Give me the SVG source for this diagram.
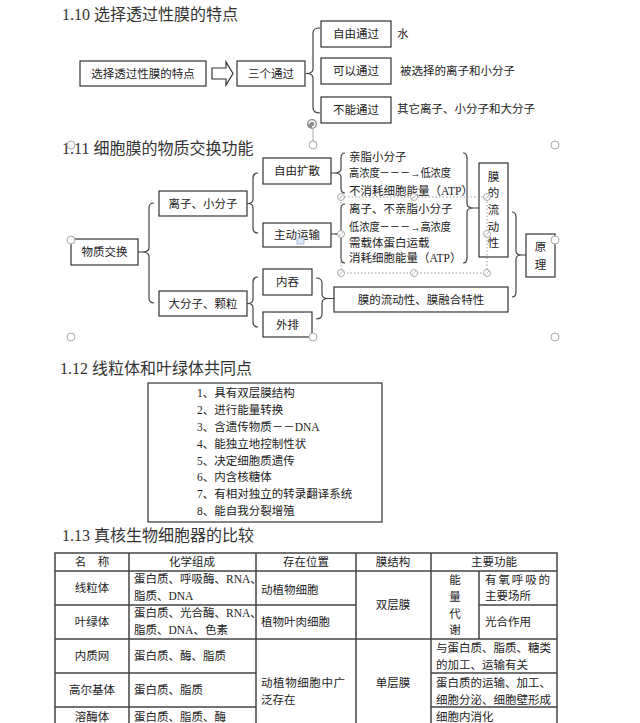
<svg xmlns="http://www.w3.org/2000/svg" width="640" height="723" viewBox="0 0 640 723">
<style>
text{font-family:"Liberation Serif","Noto Sans CJK SC",sans-serif;font-size:11.5px;fill:#222}
.t{font-size:16px;fill:#333}
.c{text-anchor:middle}
.box{fill:#fff;stroke:#333;stroke-width:1.2}
.br{fill:none;stroke:#444;stroke-width:1.2}
.tb{fill:none;stroke:#444;stroke-width:1.5}
.h{fill:#fff;stroke:#aaa;stroke-width:1}
.dot{fill:none;stroke:#999;stroke-width:1;stroke-dasharray:1.5 2}
</style>
<rect width="640" height="723" fill="#fff"/>

<!-- 1.10 -->
<g id="title110"><text class="t" x="62" y="20">1.10 选择透过性膜的特点</text></g>
<g id="n_xuanze"><rect class="box" x="80" y="61" width="126" height="25"/><text class="c" x="143" y="77.5">选择透过性膜的特点</text></g>
<g id="n_sange"><rect class="box" x="237" y="61" width="68" height="25"/><text class="c" x="271" y="77.5">三个通过</text></g>
<g id="n_ziyou"><rect class="box" x="321" y="21" width="70" height="26"/><text class="c" x="356" y="38">自由通过</text></g>
<g id="n_keyi"><rect class="box" x="321" y="58" width="70" height="26"/><text class="c" x="356" y="75">可以通过</text></g>
<g id="n_buneng"><rect class="box" x="321" y="97" width="70" height="26"/><text class="c" x="356" y="114">不能通过</text></g>
<g id="l_shui"><text x="397" y="38">水</text></g>
<g id="l_beixuanze"><text x="400" y="75">被选择的离子和小分子</text></g>
<g id="l_qita"><text x="397" y="113">其它离子、小分子和大分子</text></g>

<g id="connectors">
<polygon points="212,68 226,68 226,62 233,73.5 226,85 226,79 212,79" fill="#fff" stroke="#333" stroke-width="1.2"/>
<path class="br" d="M320 28 Q313 28 313 33 L313 69 Q313 73.5 306 73.5 Q313 73.5 313 78 L313 108 Q313 113 320 113"/>
<path class="br" d="M138 252 L142 252 M154 203 Q149 203 149 208 L149 248 Q149 252 142 252 Q149 252 149 257 L149 298 Q149 303 154 303"/>
<path class="br" d="M247 203.5 L248 203.5 M258 173 Q253 173 253 178 L253 199 Q253 203.5 248 203.5 Q253 203.5 253 208 L253 228 Q253 233 258 233"/>
<path class="br" d="M247 303.5 L248 303.5 M258 277 Q253 277 253 282 L253 299 Q253 303.5 248 303.5 Q253 303.5 253 308 L253 322 Q253 327 258 327"/>
<path class="br" d="M316 278 Q322 278 322 283 L322 294 Q322 298.5 328 298.5 Q322 298.5 322 303 L322 314 Q322 319 316 319 M328 298.5 L334 298.5"/>
<path class="br" d="M331 173 L334 173 M345 153 Q341 153 341 158 L341 169 Q341 173 334 173 Q341 173 341 177 L341 188 Q341 193 345 193"/>
<path class="br" d="M331 234 L334 234 M345 204 Q341 204 341 209 L341 230 Q341 234 334 234 Q341 234 341 238 L341 258 Q341 263 345 263"/>
<path class="br" d="M463 153 Q467 153 467 158 L467 204 Q467 208 474 208 Q467 208 467 212 L467 258 Q467 263 463 263 M474 208 L479 208"/>
<path class="br" d="M512 212 Q516 212 516 217 L516 251 Q516 255 522 255 Q516 255 516 259 L516 292 Q516 297 512 297 M522 255 L526 255"/>
</g>

<!-- 1.11 -->
<g id="title111"><text class="t" x="62" y="154">1.11 细胞膜的物质交换功能</text></g>
<g id="n_wuzhi"><rect class="box" x="71" y="239" width="67" height="26"/><text class="c" x="104.5" y="256">物质交换</text></g>
<g id="n_lizi"><rect class="box" x="159" y="191" width="88" height="25"/><text class="c" x="203" y="207.5">离子、小分子</text></g>
<g id="n_dafenzi"><rect class="box" x="159" y="291" width="88" height="25"/><text class="c" x="203" y="307.5">大分子、颗粒</text></g>
<g id="n_ziyoukuosan"><rect class="box" x="263" y="158" width="68" height="26"/><text class="c" x="297" y="175">自由扩散</text></g>
<g id="n_zhudong"><rect class="box" x="263" y="223" width="68" height="24"/><text class="c" x="297" y="239">主动运输</text></g>
<g id="n_neitun"><rect class="box" x="263" y="269" width="49" height="26"/><text class="c" x="287.5" y="286">内吞</text></g>
<g id="n_waipai"><rect class="box" x="263" y="312" width="49" height="25"/><text class="c" x="287.5" y="328.5">外排</text></g>
<g id="n_liudongxing2"><rect class="box" x="334" y="287" width="174" height="25"/><text class="c" x="421" y="303.5">膜的流动性、膜融合特性</text></g>
<g id="t_ziyou">
<text x="349" y="161">亲脂小分子</text>
<text x="349" y="177" textLength="102" lengthAdjust="spacingAndGlyphs">高浓度－－－→低浓度</text>
<text x="349" y="195">不消耗细胞能量（ATP）</text>
</g>
<g id="t_zhudong">
<text x="349" y="213">离子、不亲脂小分子</text>
<text x="349" y="231" textLength="102" lengthAdjust="spacingAndGlyphs">低浓度－－－→高浓度</text>
<text x="349" y="247">需载体蛋白运载</text>
<text x="349" y="262">消耗细胞能量（ATP）</text>
</g>
<g id="n_liudongxing"><rect class="box" x="479" y="163" width="29" height="94"/>
<text class="c" x="493.5" y="181">膜</text><text class="c" x="493.5" y="197">的</text><text class="c" x="493.5" y="214">流</text><text class="c" x="493.5" y="231">动</text><text class="c" x="493.5" y="247">性</text></g>
<g id="n_yuanli"><rect class="box" x="526" y="234" width="29" height="43"/>
<text class="c" x="540.5" y="251">原</text><text class="c" x="540.5" y="269">理</text></g>

<g id="handles">
<circle cx="312" cy="124" r="5" fill="#8a8a8a"/>
<path d="M309 124 A3 3 0 1 1 312 127" fill="none" stroke="#fff" stroke-width="1.3"/>
<line x1="313" y1="129" x2="313" y2="141" stroke="#aaa"/>
<circle class="h" cx="71" cy="145" r="4"/><circle class="h" cx="313" cy="145" r="4"/><circle class="h" cx="555" cy="145" r="4"/>
<circle class="h" cx="71" cy="240" r="4"/><circle class="h" cx="555" cy="240" r="4"/>
<circle class="h" cx="71" cy="337" r="4"/><circle class="h" cx="313" cy="337" r="4"/><circle class="h" cx="555" cy="337" r="4"/>
<rect class="dot" x="341" y="197" width="146" height="76"/>
<g stroke="#aaa" fill="#fff">
<circle cx="341" cy="197" r="3.5"/><circle cx="414" cy="197" r="3.5"/><circle cx="487" cy="197" r="3.5"/>
<circle cx="341" cy="234" r="3.5"/><circle cx="487" cy="234" r="3.5"/>
<circle cx="341" cy="273" r="3.5"/><circle cx="414" cy="273" r="3.5"/><circle cx="487" cy="273" r="3.5"/>
</g>
<g stroke="#aaa" stroke-width="0.8">
<line x1="339" y1="199" x2="343" y2="195"/><line x1="412" y1="199" x2="416" y2="195"/><line x1="485" y1="199" x2="489" y2="195"/>
<line x1="339" y1="236" x2="343" y2="232"/><line x1="485" y1="236" x2="489" y2="232"/>
<line x1="339" y1="275" x2="343" y2="271"/><line x1="412" y1="275" x2="416" y2="271"/><line x1="485" y1="275" x2="489" y2="271"/>
</g>
<rect x="297" y="238" width="7" height="6" fill="#dde8f5" stroke="#9bb5d6" stroke-width="0.8"/>
</g>

<!-- 1.12 -->
<g id="title112"><text class="t" x="60" y="374">1.12 线粒体和叶绿体共同点</text></g>
<g id="n_gongtong"><rect class="box" x="148" y="383" width="234" height="139"/>
<text x="197" y="397">1、具有双层膜结构</text>
<text x="197" y="414">2、进行能量转换</text>
<text x="197" y="431">3、含遗传物质－－DNA</text>
<text x="197" y="448">4、能独立地控制性状</text>
<text x="197" y="465">5、决定细胞质遗传</text>
<text x="197" y="481">6、内含核糖体</text>
<text x="197" y="498">7、有相对独立的转录翻译系统</text>
<text x="197" y="515">8、能自我分裂增殖</text>
</g>

<!-- 1.13 -->
<g id="title113"><text class="t" x="62" y="541">1.13 真核生物细胞器的比较</text></g>
<g id="table">
<rect class="tb" x="55" y="553" width="502" height="180"/>
<path class="tb" d="M55 571H557 M55 605H356 M479 605H557 M55 639H557 M55 673H256 M431 673H557 M55 707H256 M431 707H557 M129 553V723 M256 553V723 M356 553V723 M431 553V723 M479 571V639"/>
<text class="c" x="92" y="566">名　称</text>
<text class="c" x="192" y="566">化学组成</text>
<text class="c" x="306" y="566">存在位置</text>
<text class="c" x="393" y="566">膜结构</text>
<text class="c" x="494" y="566">主要功能</text>
<text class="c" x="92" y="592">线粒体</text>
<text x="134" y="583">蛋白质、呼吸酶、RNA、</text>
<text x="134" y="600">脂质、DNA</text>
<text x="261" y="594">动植物细胞</text>
<text class="c" x="393" y="609">双层膜</text>
<text class="c" x="455" y="584">能</text><text class="c" x="455" y="601">量</text><text class="c" x="455" y="618">代</text><text class="c" x="455" y="634">谢</text>
<text x="485" y="584" textLength="65" lengthAdjust="spacing">有氧呼吸的</text>
<text x="485" y="600">主要场所</text>
<text class="c" x="92" y="626">叶绿体</text>
<text x="134" y="617">蛋白质、光合酶、RNA、</text>
<text x="134" y="634">脂质、DNA、色素</text>
<text x="261" y="626">植物叶肉细胞</text>
<text x="485" y="626">光合作用</text>
<text class="c" x="92" y="660">内质网</text>
<text x="134" y="660">蛋白质、酶、脂质</text>
<text x="436" y="652">与蛋白质、脂质、糖类</text>
<text x="436" y="669">的加工、运输有关</text>
<text class="c" x="92" y="694">高尔基体</text>
<text x="134" y="694">蛋白质、脂质</text>
<text x="261" y="687" textLength="84" lengthAdjust="spacing">动植物细胞中广</text>
<text x="261" y="704">泛存在</text>
<text class="c" x="393" y="687">单层膜</text>
<text x="436" y="687">蛋白质的运输、加工、</text>
<text x="436" y="704">细胞分泌、细胞壁形成</text>
<text class="c" x="92" y="721">溶酶体</text>
<text x="134" y="721">蛋白质、脂质、酶</text>
<text x="436" y="721">细胞内消化</text>
</g>
</svg>
